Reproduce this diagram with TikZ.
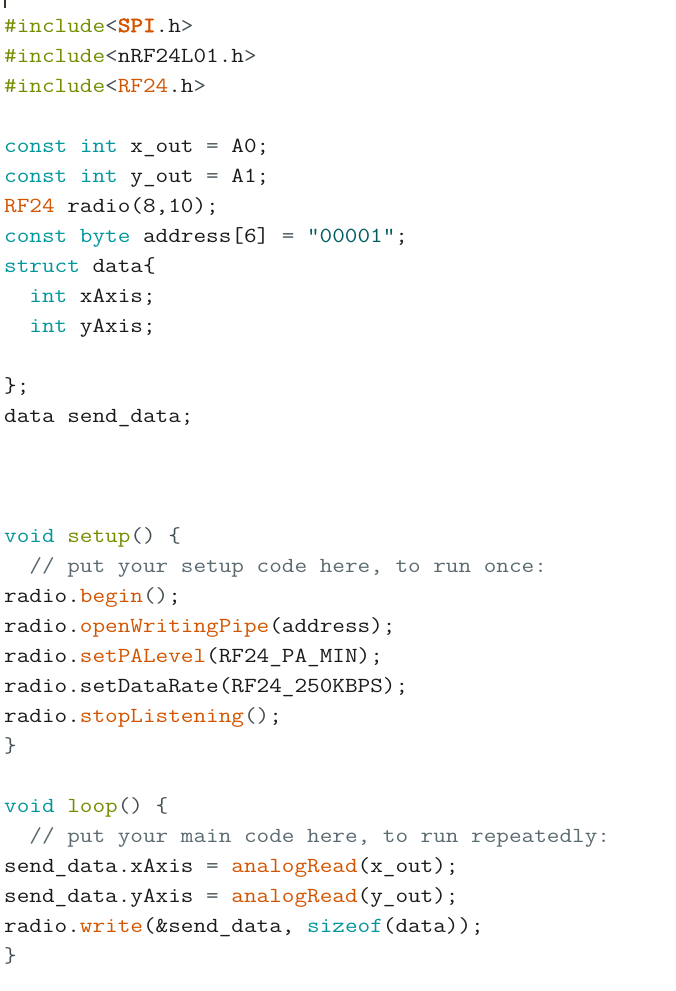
\documentclass[tikz,border=0pt]{standalone}
\usepackage{fontspec}
\setmonofont[FakeStretch=1.14]{Latin Modern Mono}
\newfontfamily\spibold[FakeStretch=1.14,FakeBold=2.5]{Latin Modern Mono}
\definecolor{kw}{HTML}{00979C}
\definecolor{fnc}{HTML}{D35400}
\definecolor{olv}{HTML}{728E00}
\definecolor{opc}{HTML}{434F54}
\definecolor{cmt}{HTML}{5A6A70}
\definecolor{strc}{HTML}{005C5F}
\definecolor{txt}{HTML}{1A1A1A}
\newcommand{\K}[1]{\textcolor{kw}{#1}}
\newcommand{\F}[1]{\textcolor{fnc}{#1}}
\newcommand{\I}[1]{\textcolor{olv}{#1}}
\newcommand{\OP}[1]{\textcolor{opc}{#1}}
\newcommand{\C}[1]{\textcolor{cmt}{#1}}
\newcommand{\STR}[1]{\textcolor{strc}{#1}}
\newcommand{\ind}{\hphantom{xx}}
\begin{document}
\begin{tikzpicture}[x=1pt,y=-1pt,
  code/.style={anchor=base west,inner sep=0pt,text=txt,font=\ttfamily\fontsize{21.5}{24}\selectfont}]
\useasboundingbox (0,0) rectangle (675,991);
\fill[fill=black!80!olive] (4,0) rectangle (6,8);
\node[code] (l1) at (4,32) {\I{\#include}\OP{<}\F{{\spibold SPI}}.h\OP{>}};
\node[code] (l2) at (4,62) {\I{\#include}\OP{<}nRF24L01.h\OP{>}};
\node[code] (l3) at (4,92) {\I{\#include}\OP{<}\F{RF24}.h\OP{>}};
\node[code] (l5) at (4,152) {\K{const} \K{int} x\_out \OP{=} A0;};
\node[code] (l6) at (4,182) {\K{const} \K{int} y\_out \OP{=} A1;};
\node[code] (l7) at (4,212) {\F{RF24} radio(8,10);};
\node[code] (l8) at (4,242) {\K{const} \K{byte} address[6] \OP{=} \STR{"00001"};};
\node[code] (l9) at (4,272) {\K{struct} data\{};
\node[code] (l10) at (4,302) {\ind\K{int} xAxis;};
\node[code] (l11) at (4,332) {\ind\K{int} yAxis;};
\node[code] (l13) at (4,392) {\};};
\node[code] (l14) at (4,422) {data send\_data;};
\node[code] (l18) at (4,542) {\K{void} \I{setup}\OP{()} \OP{\{}};
\node[code] (l19) at (4,572) {\ind\C{// put your setup code here, to run once:}};
\node[code] (l20) at (4,602) {radio.\F{begin}\OP{()};};
\node[code] (l21) at (4,632) {radio.\F{openWritingPipe}(address);};
\node[code] (l22) at (4,662) {radio.\F{setPALevel}(RF24\_PA\_MIN);};
\node[code] (l23) at (4,692) {radio.setDataRate(RF24\_250KBPS);};
\node[code] (l24) at (4,722) {radio.\F{stopListening}\OP{()};};
\node[code] (l25) at (4,752) {\OP{\}}};
\node[code] (l27) at (4,812) {\K{void} \I{loop}\OP{()} \OP{\{}};
\node[code] (l28) at (4,842) {\ind\C{// put your main code here, to run repeatedly:}};
\node[code] (l29) at (4,872) {send\_data.xAxis \OP{=} \F{analogRead}(x\_out);};
\node[code] (l30) at (4,902) {send\_data.yAxis \OP{=} \F{analogRead}(y\_out);};
\node[code] (l31) at (4,932) {radio.\F{write}(\&send\_data, \K{sizeof}(data));};
\node[code] (l32) at (4,962) {\OP{\}}};
\end{tikzpicture}
\end{document}
